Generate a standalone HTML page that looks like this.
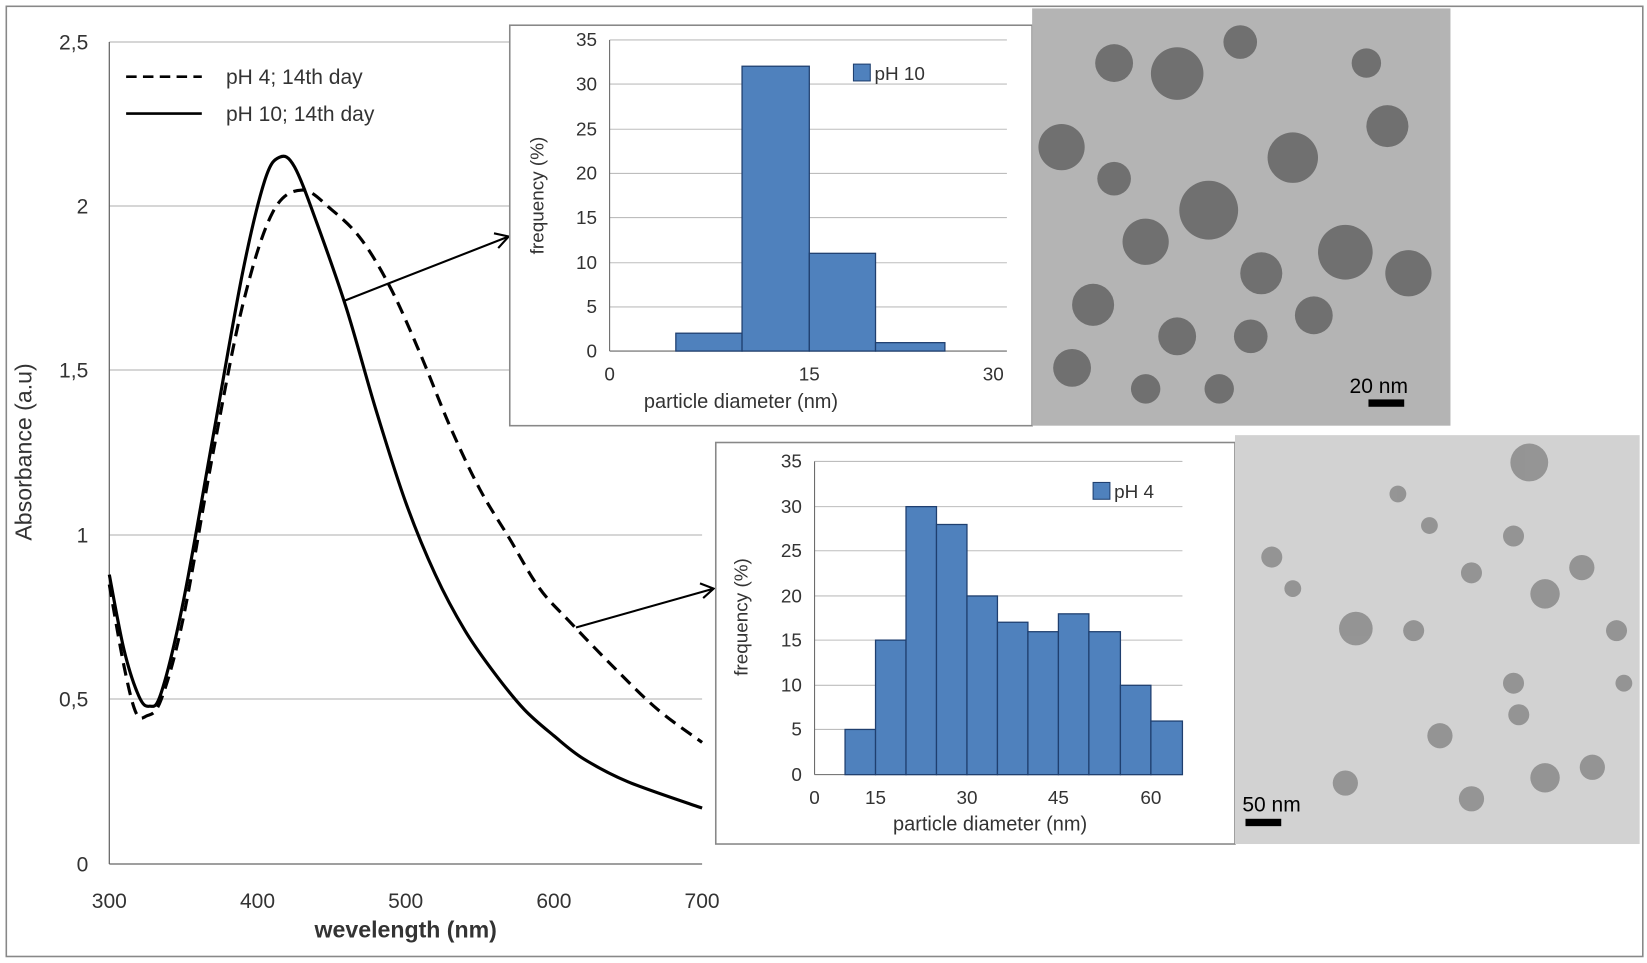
<!DOCTYPE html>
<html><head><meta charset="utf-8"><style>
html,body{margin:0;padding:0;background:#fff;}
svg{display:block;font-family:"Liberation Sans",sans-serif;}
</style></head><body>
<svg width="1647" height="963" viewBox="0 0 1567 916.2" preserveAspectRatio="none">
<rect x="6" y="6" width="1557" height="904" fill="#fff" stroke="#888" stroke-width="1.5"/>
<!-- main grid -->
<g stroke="#bdbdbd" stroke-width="1.2">
<line x1="104" y1="40" x2="668" y2="40"/><line x1="104" y1="196" x2="668" y2="196"/>
<line x1="104" y1="352" x2="668" y2="352"/><line x1="104" y1="509" x2="668" y2="509"/>
<line x1="104" y1="665" x2="668" y2="665"/>
</g>
<g stroke="#666" stroke-width="1.2"><line x1="104" y1="40" x2="104" y2="822"/><line x1="104" y1="822" x2="668" y2="822"/></g>
<g font-size="20" fill="#333" text-anchor="end">
<text x="84" y="47">2,5</text><text x="84" y="203">2</text><text x="84" y="359">1,5</text>
<text x="84" y="516">1</text><text x="84" y="672">0,5</text><text x="84" y="829">0</text>
</g>
<g font-size="20" fill="#333" text-anchor="middle">
<text x="104" y="864">300</text><text x="245" y="864">400</text><text x="386" y="864">500</text>
<text x="527" y="864">600</text><text x="668" y="864">700</text>
</g>
<text x="386" y="892" font-size="22" font-weight="bold" text-anchor="middle" fill="#333">wevelength (nm)</text>
<text transform="translate(30,430) rotate(-90)" font-size="22" text-anchor="middle" fill="#333">Absorbance (a.u)</text>
<!-- legend -->
<line x1="120" y1="73" x2="192" y2="73" stroke="#000" stroke-width="2.5" stroke-dasharray="10,6"/>
<text x="215" y="80" font-size="20" fill="#333">pH 4; 14th day</text>
<line x1="120" y1="108" x2="192" y2="108" stroke="#000" stroke-width="2.5"/>
<text x="215" y="115" font-size="20" fill="#333">pH 10; 14th day</text>
<!-- curves -->
<path id="solid" fill="none" stroke="#000" stroke-width="3" d=""/>
<path id="dash" fill="none" stroke="#000" stroke-width="3" stroke-dasharray="12,7" d=""/>
<!-- arrows -->
<g stroke="#000" stroke-width="2" fill="none">
<line x1="328" y1="286" x2="484" y2="225"/><polyline points="470,222 484,225 474,236"/>
<line x1="548" y1="597" x2="679" y2="560"/><polyline points="666,555 679,560 669,569"/>
</g>
<!-- inset 1 -->
<rect x="485" y="24" width="497" height="381" fill="#fff" stroke="#888" stroke-width="1.5"/>
<g stroke="#bdbdbd"><line x1="580" y1="38" x2="958" y2="38"/><line x1="580" y1="80" x2="958" y2="80"/><line x1="580" y1="123" x2="958" y2="123"/><line x1="580" y1="165" x2="958" y2="165"/><line x1="580" y1="207" x2="958" y2="207"/><line x1="580" y1="250" x2="958" y2="250"/><line x1="580" y1="292" x2="958" y2="292"/></g>
<line x1="580" y1="334" x2="958" y2="334" stroke="#666"/><line x1="580" y1="38" x2="580" y2="334" stroke="#666"/>
<g fill="#4f81bd" stroke="#1f3f6f" stroke-width="1.2">
<rect x="643" y="317" width="63" height="17"/><rect x="706" y="63" width="64" height="271"/>
<rect x="770" y="241" width="63" height="93"/><rect x="833" y="326" width="66" height="8"/>
</g>
<g font-size="18" fill="#333" text-anchor="end">
<text x="568" y="44">35</text><text x="568" y="86">30</text><text x="568" y="129">25</text><text x="568" y="171">20</text><text x="568" y="213">15</text><text x="568" y="256">10</text><text x="568" y="298">5</text><text x="568" y="340">0</text></g>
<g font-size="18" fill="#333" text-anchor="middle"><text x="580" y="362">0</text><text x="770" y="362">15</text><text x="945" y="362">30</text></g>
<text x="705" y="388" font-size="19" fill="#333" text-anchor="middle">particle diameter (nm)</text>
<text transform="translate(517,186) rotate(-90)" font-size="18" fill="#333" text-anchor="middle">frequency (%)</text>
<rect x="812" y="61" width="16" height="16" fill="#4f81bd" stroke="#1f3f6f"/>
<text x="832" y="76" font-size="18" fill="#333">pH 10</text>
<!-- TEM 1 -->
<rect x="982" y="8" width="398" height="397" fill="#b4b4b4"/>
<g fill="#5a5a5a" opacity="0.75">
<circle cx="1010" cy="140" r="22"/><circle cx="1060" cy="60" r="18"/><circle cx="1120" cy="70" r="25"/><circle cx="1150" cy="200" r="28"/>
<circle cx="1230" cy="150" r="24"/><circle cx="1280" cy="240" r="26"/><circle cx="1200" cy="260" r="20"/><circle cx="1090" cy="230" r="22"/>
<circle cx="1040" cy="290" r="20"/><circle cx="1120" cy="320" r="18"/><circle cx="1190" cy="320" r="16"/><circle cx="1250" cy="300" r="18"/>
<circle cx="1320" cy="120" r="20"/><circle cx="1180" cy="40" r="16"/><circle cx="1300" cy="60" r="14"/><circle cx="1340" cy="260" r="22"/>
<circle cx="1020" cy="350" r="18"/><circle cx="1090" cy="370" r="14"/><circle cx="1160" cy="370" r="14"/><circle cx="1060" cy="170" r="16"/>
</g>
<text x="1284" y="374" font-size="20" fill="#000">20 nm</text><rect x="1302" y="380" width="34" height="7" fill="#000"/>
<!-- inset 2 -->
<rect x="681" y="421" width="494" height="382" fill="#fff" stroke="#888" stroke-width="1.5"/>
<g stroke="#bdbdbd"><line x1="775" y1="439" x2="1125" y2="439"/><line x1="775" y1="482" x2="1125" y2="482"/><line x1="775" y1="524" x2="1125" y2="524"/><line x1="775" y1="567" x2="1125" y2="567"/><line x1="775" y1="609" x2="1125" y2="609"/><line x1="775" y1="652" x2="1125" y2="652"/><line x1="775" y1="694" x2="1125" y2="694"/></g>
<line x1="775" y1="737" x2="1125" y2="737" stroke="#666"/><line x1="775" y1="439" x2="775" y2="737" stroke="#666"/>
<g fill="#4f81bd" stroke="#1f3f6f" stroke-width="1.2">
<rect x="804" y="694" width="29" height="43"/><rect x="833" y="609" width="29" height="128"/><rect x="862" y="482" width="29" height="255"/>
<rect x="891" y="499" width="29" height="238"/><rect x="920" y="567" width="29" height="170"/><rect x="949" y="592" width="29" height="145"/>
<rect x="978" y="601" width="29" height="136"/><rect x="1007" y="584" width="29" height="153"/><rect x="1036" y="601" width="30" height="136"/>
<rect x="1066" y="652" width="29" height="85"/><rect x="1095" y="686" width="30" height="51"/>
</g>
<g font-size="18" fill="#333" text-anchor="end">
<text x="763" y="445">35</text><text x="763" y="488">30</text><text x="763" y="530">25</text><text x="763" y="573">20</text><text x="763" y="615">15</text><text x="763" y="658">10</text><text x="763" y="700">5</text><text x="763" y="743">0</text></g>
<g font-size="18" fill="#333" text-anchor="middle"><text x="775" y="765">0</text><text x="833" y="765">15</text><text x="920" y="765">30</text><text x="1007" y="765">45</text><text x="1095" y="765">60</text></g>
<text x="942" y="790" font-size="19" fill="#333" text-anchor="middle">particle diameter (nm)</text>
<text transform="translate(711,587) rotate(-90)" font-size="18" fill="#333" text-anchor="middle">frequency (%)</text>
<rect x="1040" y="459" width="16" height="16" fill="#4f81bd" stroke="#1f3f6f"/>
<text x="1060" y="474" font-size="18" fill="#333">pH 4</text>
<!-- TEM 2 -->
<rect x="1175" y="414" width="385" height="389" fill="#d2d2d2"/>
<g fill="#7a7a7a" opacity="0.7">
<circle cx="1455" cy="440" r="18"/><circle cx="1290" cy="598" r="16"/><circle cx="1345" cy="600" r="10"/><circle cx="1470" cy="565" r="14"/>
<circle cx="1400" cy="545" r="10"/><circle cx="1505" cy="540" r="12"/><circle cx="1538" cy="600" r="10"/><circle cx="1210" cy="530" r="10"/>
<circle cx="1230" cy="560" r="8"/><circle cx="1440" cy="650" r="10"/><circle cx="1445" cy="680" r="10"/><circle cx="1370" cy="700" r="12"/>
<circle cx="1470" cy="740" r="14"/><circle cx="1515" cy="730" r="12"/><circle cx="1400" cy="760" r="12"/><circle cx="1330" cy="470" r="8"/>
<circle cx="1360" cy="500" r="8"/><circle cx="1440" cy="510" r="10"/><circle cx="1280" cy="745" r="12"/><circle cx="1545" cy="650" r="8"/>
</g>
<text x="1182" y="772" font-size="20" fill="#000">50 nm</text><rect x="1185" y="779" width="34" height="7" fill="#000"/>
</svg>
<script>
function path(d){
  var p=d.map(function(a){return [104+(a[0]-300)*1.41, 822-a[1]*312.8];});
  var s="M"+p[0][0].toFixed(1)+","+p[0][1].toFixed(1);
  for(var i=0;i<p.length-1;i++){
    var p0=p[i-1]||p[i],p1=p[i],p2=p[i+1],p3=p[i+2]||p2;
    var c1=[p1[0]+(p2[0]-p0[0])/6,p1[1]+(p2[1]-p0[1])/6];
    var c2=[p2[0]-(p3[0]-p1[0])/6,p2[1]-(p3[1]-p1[1])/6];
    s+=" C"+c1[0].toFixed(1)+","+c1[1].toFixed(1)+" "+c2[0].toFixed(1)+","+c2[1].toFixed(1)+" "+p2[0].toFixed(1)+","+p2[1].toFixed(1);
  }
  return s;
}
var solid=[[300,.88],[310,.65],[320,.51],[327,.48],[335,.52],[350,.8],[370,1.3],[390,1.8],[405,2.08],[415,2.15],[425,2.12],[440,1.95],[460,1.69],[480,1.38],[500,1.1],[520,.88],[540,.71],[560,.58],[580,.47],[600,.39],[620,.32],[650,.25],[700,.17]];
var dash=[[300,.85],[310,.6],[318,.46],[325,.45],[335,.5],[350,.75],[370,1.25],[390,1.7],[410,1.98],[430,2.05],[450,1.99],[470,1.9],[490,1.75],[510,1.55],[530,1.33],[550,1.14],[570,.99],[590,.84],[610,.74],[640,.6],[670,.47],[700,.37]];
document.getElementById("solid").setAttribute("d",path(solid));
document.getElementById("dash").setAttribute("d",path(dash));
</script>
</body></html>
